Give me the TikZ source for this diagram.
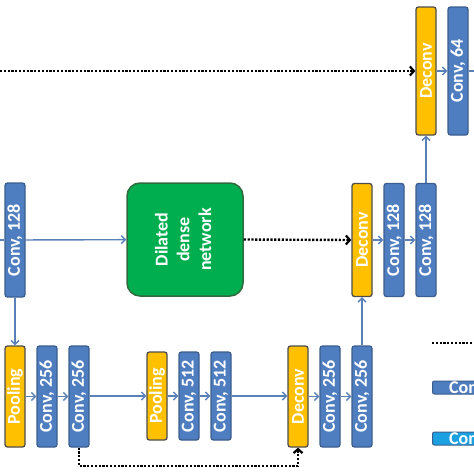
\documentclass[tikz,border=0pt]{standalone}
\usepackage{fontspec}
\setmainfont{Carlito}
\usetikzlibrary{arrows.meta}
\definecolor{cblue}{HTML}{4F7EC0}
\definecolor{cblueb}{HTML}{3B5E8E}
\definecolor{cyel}{HTML}{FFC000}
\definecolor{cyelb}{HTML}{4D4D4D}
\definecolor{cgreen}{HTML}{00AE4F}
\definecolor{cgreenb}{HTML}{2F6B3E}
\definecolor{carrow}{HTML}{5A80B8}
\definecolor{clight}{HTML}{1BA1E2}
\tikzset{
  x=1pt,y=-1pt,
  blk/.style={draw, line width=1.3pt, rounded corners=2.5pt, minimum width=20pt, inner sep=0pt,
    text=white, font=\fontsize{18}{20}\selectfont\bfseries},
  convbox/.style={blk, fill=cblue, draw=cblueb},
  yelbox/.style={blk, fill=cyel, draw=cyelb},
  flow/.style={draw=carrow, line width=1.4pt, -{Straight Barb[length=4pt,width=8pt,line width=1.4pt]}},
  dotline/.style={draw=black, line width=2.4pt, dash pattern=on 2.2pt off 1.6pt},
  skip/.style={dotline, -{Straight Barb[length=4pt,width=9pt,line width=2.2pt]}},
}
\newcommand{\rt}[1]{\rotatebox{90}{#1}}
\begin{document}
\begin{tikzpicture}
\useasboundingbox (0,0) rectangle (474,474);
\clip (0,0) rectangle (474,474);
% top row
\node[yelbox, minimum height=128pt] (d1) at (426,71) {\rt{Deconv}};
\node[convbox, minimum height=128pt] (c64) at (458,71) {\rt{Conv, 64}};
% middle row
\node[convbox, minimum height=114pt] (c128a) at (15,240) {\rt{Conv, 128}};
\node[draw=cgreenb, fill=cgreen, line width=1.5pt, rounded corners=13pt, minimum width=116pt, minimum height=113pt,
  text=white, font=\fontsize{18}{21.7}\selectfont\bfseries] (ddn) at (185,239.5)
  {\rotatebox{90}{\begin{tabular}{@{}c@{}}Dilated\\dense\\network\end{tabular}}};
\node[yelbox, minimum height=113pt] (d2) at (362,240) {\rt{Deconv}};
\node[convbox, minimum height=113pt] (c128b) at (394,240) {\rt{Conv, 128}};
\node[convbox, minimum height=113pt] (c128c) at (426,240) {\rt{Conv, 128}};
% bottom row
\node[yelbox, minimum height=101pt] (p1) at (15,396.5) {\rt{Pooling}};
\node[convbox, minimum height=101pt] (c256a) at (47,396.5) {\rt{Conv, 256}};
\node[convbox, minimum height=101pt] (c256b) at (79,396.5) {\rt{Conv, 256}};
\node[yelbox, minimum height=88pt] (p2) at (157,396) {\rt{Pooling}};
\node[convbox, minimum height=88pt] (c512a) at (189,396) {\rt{Conv, 512}};
\node[convbox, minimum height=88pt] (c512b) at (221,396) {\rt{Conv, 512}};
\node[yelbox, minimum height=101pt] (d3) at (298,396.5) {\rt{Deconv}};
\node[convbox, minimum height=101pt] (c256c) at (330,396.5) {\rt{Conv, 256}};
\node[convbox, minimum height=101pt] (c256d) at (362,396.5) {\rt{Conv, 256}};
% legend
\coordinate (lg1) at (432,343);
\coordinate (lg2) at (478,343);
\node[draw=cblueb, fill=cblue, line width=1pt, rounded corners=2pt, minimum width=60pt, minimum height=13pt,
  inner sep=0pt, anchor=west, text=white, font=\fontsize{18}{18}\selectfont\bfseries] (lgc) at (432,387.5) {\hspace*{2pt}Con\hfill};
\node[draw=cblueb, fill=clight, line width=1pt, rounded corners=2pt, minimum width=60pt, minimum height=13pt,
  inner sep=0pt, anchor=west, text=white, font=\fontsize{18}{18}\selectfont\bfseries] (lgd) at (432,438.5) {\hspace*{2pt}Con\hfill};
% coordinates for free ends
\coordinate (inL) at (0,240);
\coordinate (skT) at (0,71);
\coordinate (outR) at (476,71);
\coordinate (sk1) at (c256b.south |- 0,466);
\coordinate (sk2) at (d3.south |- 0,466);
% flows
\draw[draw=carrow, line width=1.4pt] (inL) -- (c128a.west);
\draw[flow] (d1) -- (c64);
\draw[draw=carrow, line width=1.4pt] (c64.east) -- (outR);
\draw[flow] (c128a) -- (ddn);
\draw[flow] (d2) -- (c128b);
\draw[flow] (c128b) -- (c128c);
\draw[flow] (c128c.north) -- (d1.south);
\draw[flow] (c128a.south) -- (p1.north);
\draw[flow] (p1) -- (c256a);
\draw[flow] (c256a) -- (c256b);
\draw[flow] (c256b.east |- 0,396) -- (p2.west |- 0,396);
\draw[flow] (p2) -- (c512a);
\draw[flow] (c512a) -- (c512b);
\draw[flow] (c512b.east |- 0,396) -- (d3.west |- 0,396);
\draw[flow] (d3) -- (c256c);
\draw[flow] (c256c) -- (c256d);
\draw[flow] (c256d.north) -- (d2.south);
% skip connections
\draw[skip] (skT) -- (d1.west);
\draw[skip] (ddn.east) -- (d2.west);
\draw[skip] (c256b.south) -- (sk1) -- (sk2) -- (d3.south);
\draw[dotline] (lg1) -- (lg2);
\end{tikzpicture}
\end{document}
